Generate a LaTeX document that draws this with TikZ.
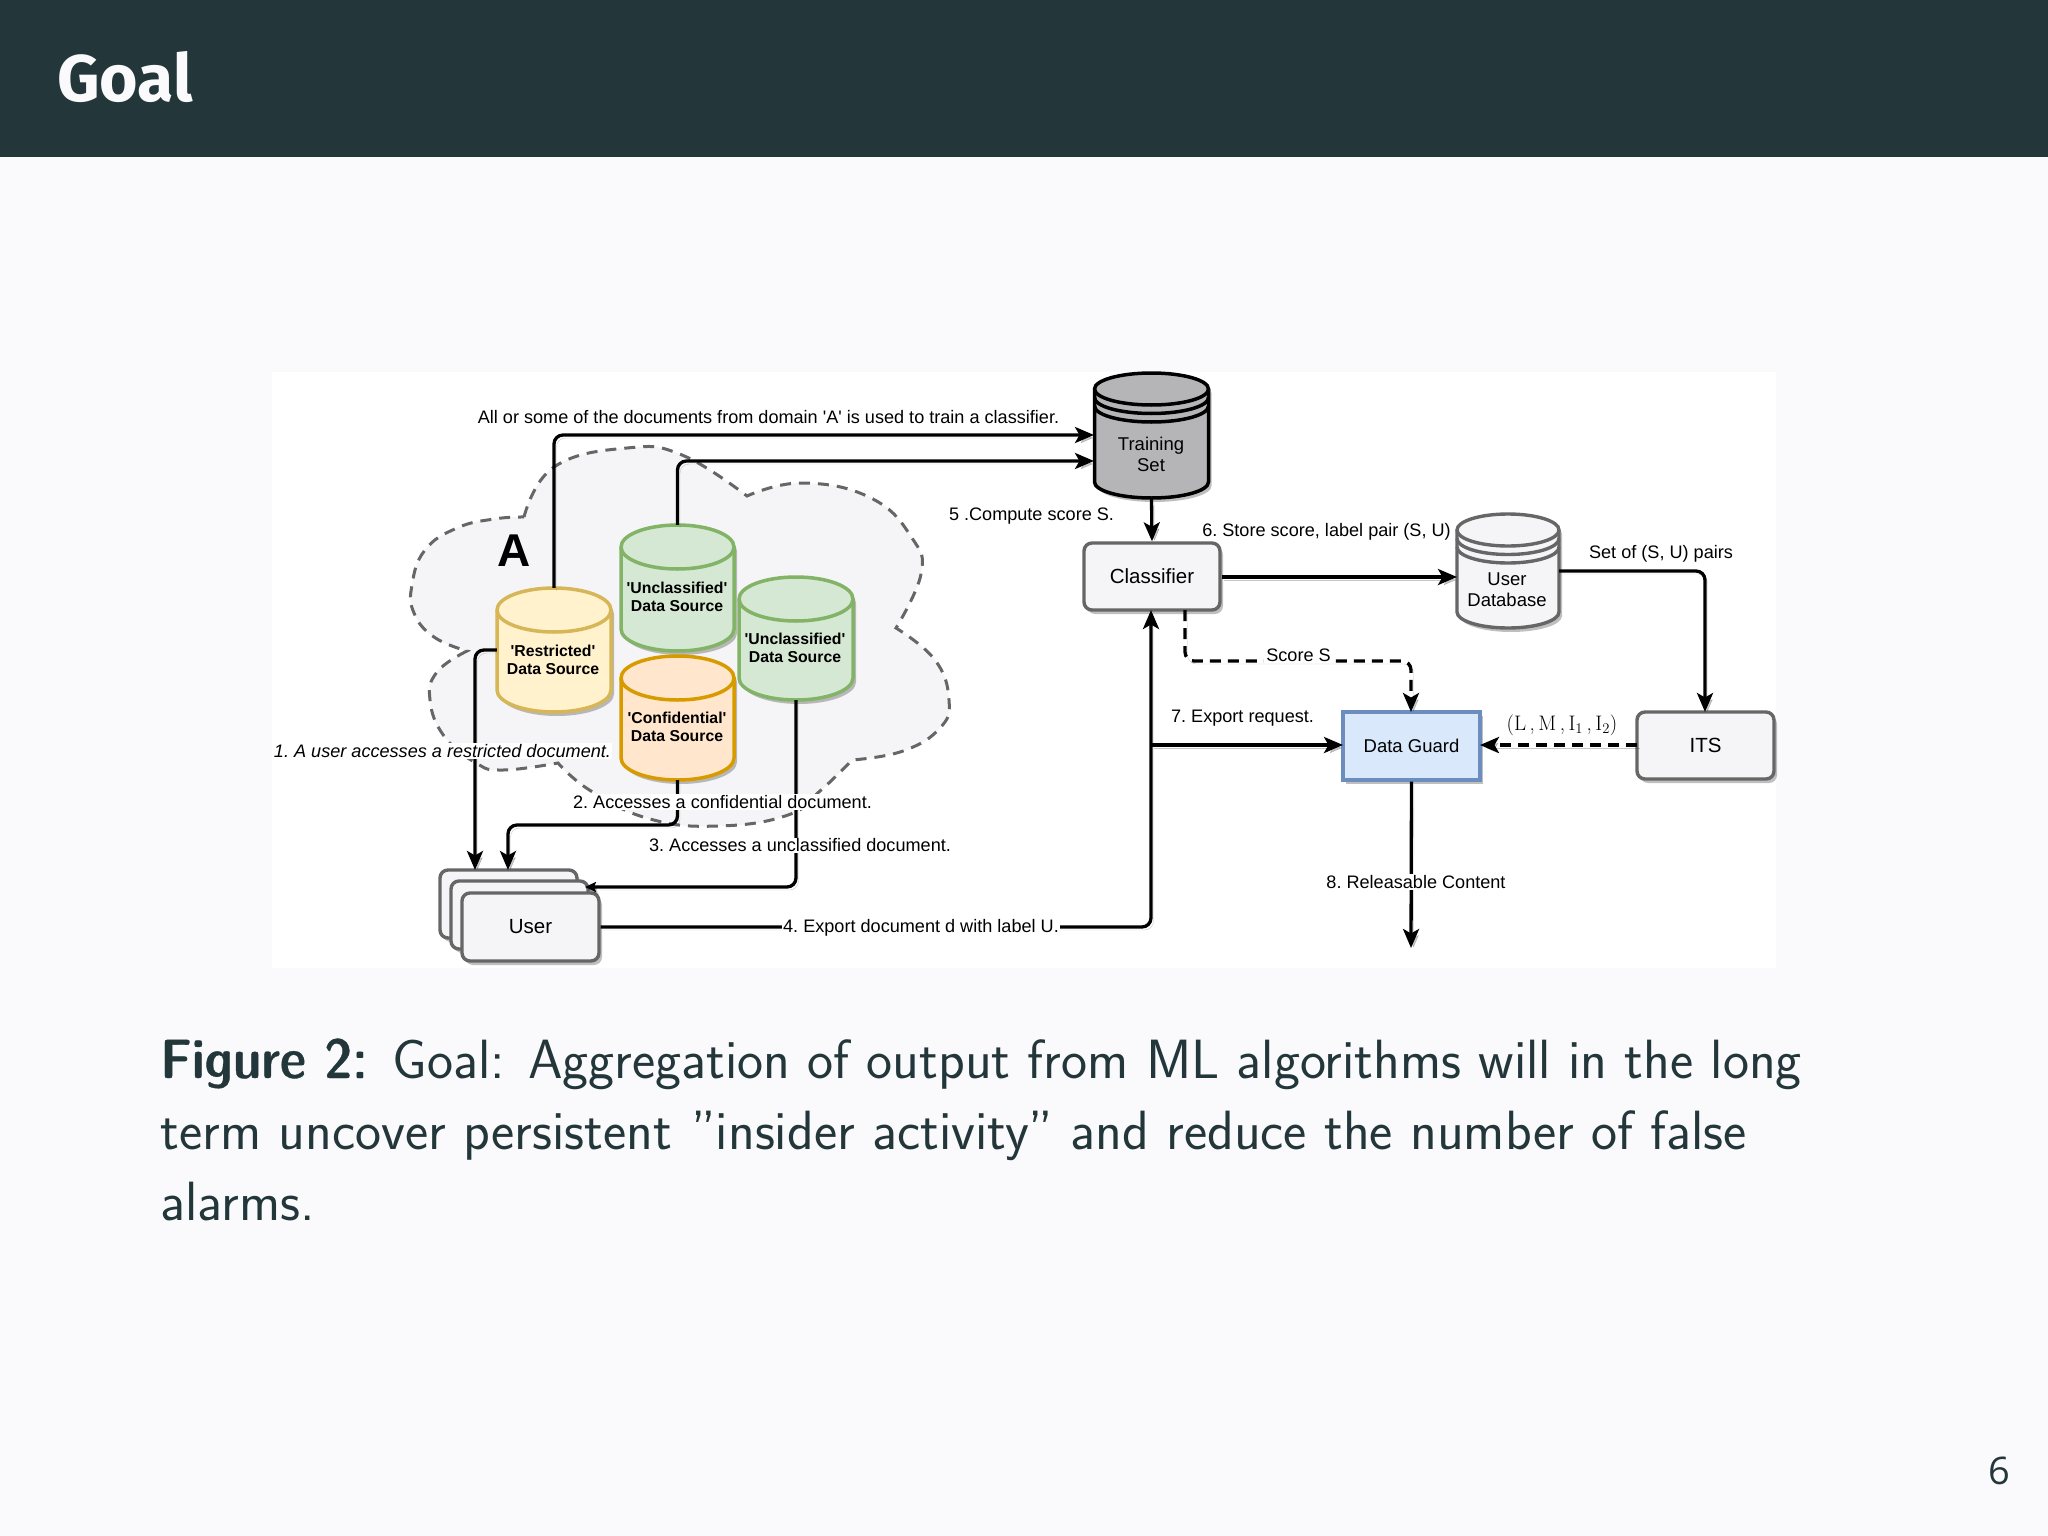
\documentclass[tikz,border=0pt]{standalone}
\usepackage{fontspec}
\usetikzlibrary{arrows.meta,shadows}
\newfontfamily\arialf{Liberation Sans}
\newfontfamily\opens{Open Sans}
\newfontfamily\firat{Fira Sans}
\newfontfamily\lmdemi[FakeStretch=1.06,FakeBold=0.6]{Latin Modern Sans Demi Cond}
\definecolor{bg}{HTML}{FAFAFC}
\definecolor{teal}{HTML}{23373B}
\definecolor{ycol}{HTML}{FFF2CC}\definecolor{ydraw}{HTML}{D6B656}
\definecolor{gcol}{HTML}{D5E8D4}\definecolor{gdraw}{HTML}{82B366}
\definecolor{ocol}{HTML}{FFE6CC}\definecolor{odraw}{HTML}{D79B00}
\definecolor{bcol}{HTML}{DAE8FC}\definecolor{bdraw}{HTML}{6C8EBF}
\definecolor{lg}{HTML}{F5F5F7}\definecolor{dg}{HTML}{666666}
\definecolor{ts}{HTML}{B5B5B7}
\frenchspacing
\tikzset{
  x=1pt,y=-1pt,
  shd/.style={preaction={draw=black,opacity=.22,transform canvas={shift={(2.5pt,-3pt)}}}},
  conn/.style={line width=3.3pt,rounded corners=9pt,draw=black,shd,-{Stealth[length=19pt,width=16pt,inset=4.5pt]}},
  connplain/.style={line width=3.3pt,rounded corners=9pt,draw=black,shd},
  dconn/.style={conn,dash pattern=on 11pt off 7pt},
  lab/.style={font=\arialf\fontsize{18.1}{21}\selectfont,fill=white,inner sep=1pt,text=black},
  laba/.style={font=\arialf\fontsize{18.1}{21}\selectfont,inner sep=0pt,text=black},
  box/.style={draw=dg,fill=lg,line width=3.4pt,rounded corners=8pt,minimum width=136pt,minimum height=67pt,inner sep=0pt,
    font=\arialf\fontsize{20.5}{24}\selectfont,drop shadow={shadow xshift=3pt,shadow yshift=-4pt,opacity=.25,fill=black}},
  cyltxt/.style={font=\arialf\bfseries\fontsize{15.8}{18}\selectfont,align=center,inner sep=0pt,text=black},
  cyltxtn/.style={font=\arialf\fontsize{18.5}{21}\selectfont,align=center,inner sep=0pt,text=black},
  captxt/.style={anchor=base west,inner sep=0pt,text=teal,font=\sffamily\nonfrenchspacing\fontsize{55.3}{71}\selectfont}
}
% name, xc, r, top, bottom, ry, fill, stroke, line width
\newcommand{\dbcyl}[9]{%
  \path[fill=black,opacity=.25] ({#2-#3+3},{#4+#6+4}) arc[start angle=180,end angle=0,x radius=#3pt,y radius=#6pt] -- ({#2+#3+3},{#5-#6+4}) arc[start angle=0,end angle=-180,x radius=#3pt,y radius=#6pt] -- cycle;
  \draw[line width=#9pt,draw=#8,fill=#7] ({#2-#3},{#4+#6}) arc[start angle=180,end angle=0,x radius=#3pt,y radius=#6pt] -- ({#2+#3},{#5-#6}) arc[start angle=0,end angle=-180,x radius=#3pt,y radius=#6pt] -- cycle;
  \draw[line width=#9pt,draw=#8] ({#2-#3},{#4+#6}) arc[start angle=180,end angle=360,x radius=#3pt,y radius=#6pt];
  \node[rectangle,inner sep=0pt,minimum width=2*#3 pt,minimum height={(#5-#4)*1pt}] (#1) at (#2,{(#4+#5)/2}) {};
}
\newcommand{\dbarc}[6]{% xc r y ry stroke lw
  \draw[line width=#6pt,draw=#5] ({#1-#2},#3) arc[start angle=180,end angle=360,x radius=#2pt,y radius=#4pt];
}
\begin{document}
\begin{tikzpicture}
\useasboundingbox (0,0) rectangle (2048,1536);
\fill[bg] (0,0) rectangle (2048,1536);
\fill[teal] (0,0) rectangle (2048,157);
\node[anchor=base west,inner sep=0pt,text=bg,font=\firat\bfseries\fontsize{66}{70}\selectfont] (title) at (57,102) {Goal};
\fill[white] (272,372) rectangle (1776,968);
% cloud
\draw[fill=lg,draw=dg,line width=3pt,dash pattern=on 11pt off 8pt]
  plot[smooth,tension=.75] coordinates {(524,517) (554,467) (627,448) (682,455) (747,496)}
  -- plot[smooth,tension=.75] coordinates {(747,496) (802,483) (871,498) (912,538) (921,574) (896,628)}
  -- plot[smooth,tension=.75] coordinates {(896,628) (935,660) (949,700) (940,728) (903,751) (852,760)}
  -- plot[smooth,tension=.75] coordinates {(852,760) (820,791) (788,815) (719,826) (650,819) (591,791) (558,763)}
  -- plot[smooth,tension=.75] coordinates {(558,763) (503,770) (476,763) (444,736) (430,700) (437,672) (467,651)}
  -- plot[smooth,tension=.75] coordinates {(467,651) (434,637) (414,613) (412,585) (425,550) (457,528) (494,519) (524,517)};
\node[inner sep=0pt,font=\arialf\bfseries\fontsize{46}{50}\selectfont] (alabel) at (514,551) {A};
% cylinders
\dbcyl{rest}{554}{57}{588}{712}{22}{ycol}{ydraw}{3.5}
\dbcyl{unca}{677.5}{56.5}{525}{651}{22}{gcol}{gdraw}{3.5}
\dbcyl{uncb}{796}{57}{577}{700}{22}{gcol}{gdraw}{3.5}
\dbcyl{conf}{677.5}{56.5}{656}{780}{22}{ocol}{odraw}{3.5}
\dbcyl{tset}{1151.5}{57}{373}{498}{16}{ts}{black}{3.5}
\dbarc{1151.5}{57}{397.5}{16}{black}{3.5}
\dbarc{1151.5}{57}{406}{16}{black}{3.5}
\dbcyl{udb}{1508}{51}{514}{628}{16}{lg}{dg}{3.4}
\dbarc{1508}{51}{538.5}{16}{dg}{3.4}
\dbarc{1508}{51}{547}{16}{dg}{3.4}
% boxes
\node[box,minimum width=137pt,minimum height=68pt] (ua) at (508.5,904) {};
\node[box,minimum width=137pt,minimum height=68pt] (ub) at (519.5,915) {};
\node[box,minimum width=137pt,minimum height=68pt] (user) at (530.5,927) {User};
\node[box] (cls) at (1152,576.5) {Classifier};
\node[box,draw=bdraw,fill=bcol,rounded corners=0pt,minimum width=137pt,minimum height=68pt,font=\arialf\fontsize{18.5}{21}\selectfont] (guard) at (1411.5,746) {Data Guard};
\node[box,minimum width=137pt,minimum height=67pt] (its) at (1705.5,745.5) {ITS};
% endpoints
\coordinate (tsa) at (1094,435);
\coordinate (tsb) at (1094,461);
\coordinate (dbin) at (1457,577);
\coordinate (dbout) at (1559,571);
\coordinate (dashout) at (1185,610);
\coordinate (guardin) at (1343,745);
\coordinate (guardits) at (1480,745);
\coordinate (itsout) at (1637,745);
\coordinate (itsin) at (1705,712);
\coordinate (guardtop) at (1411,712);
\coordinate (clsbot) at (1151,610);
\coordinate (junct) at (1151,745);
\coordinate (outend) at (1411,948);
\coordinate (ua1) at (475,870);
\coordinate (ua2) at (508,870);
\coordinate (ub1) at (585,887);
% connectors
\draw[conn] (rest.north) |- (tsa);
\draw[conn] (unca.north) |- (tsb);
\draw[conn] (rest.west) -| (ua1);
\draw[conn] (conf.south) |- (508,825) -- (ua2);
\draw[connplain,-{Stealth[length=11pt,width=10pt,inset=2pt]}] (uncb.south) |- (ub1);
\draw[conn] (user.east) -| (clsbot);
\draw[conn] (junct) -- (guardin);
\draw[conn] (tset.south) -- (cls.north);
\draw[conn] (cls.east |- dbin) -- (dbin);
\draw[conn] (dbout) -| (itsin);
\draw[dconn] (dashout) |- (1411,661) -- (guardtop);
\draw[dconn] (itsout) -- (guardits);
\draw[conn] (guard.south) -- (outend);
% cylinder text
\node[cyltxt] (restt) at (553,659.5) {'Restricted'\\Data Source};
\node[cyltxt] (uncat) at (677,597) {'Unclassified'\\Data Source};
\node[cyltxt] (uncbt) at (795,648) {'Unclassified'\\Data Source};
\node[cyltxt] (conft) at (677,727) {'Confidential'\\Data Source};
\node[cyltxtn] (tsett) at (1151,454.5) {Training\\Set};
\node[cyltxtn] (udbt) at (1507,589.5) {User\\Database};
% labels
\node[laba,anchor=center] (l0) at (768.5,417) {All or some of the documents from domain 'A' is used to train a classifier.};
\node[lab,font=\arialf\itshape\fontsize{18.1}{21}\selectfont] (l1) at (442.5,751) {1. A user accesses a restricted document.};
\node[lab] (l2) at (722.5,802) {2. Accesses a confidential document.};
\node[lab] (l3) at (800,845.5) {3. Accesses a unclassified document.};
\node[lab] (l4) at (921,927.5) {4. Export document d with label U.};
\node[laba] (l5) at (1031.5,516) {5 .Compute score S.};
\node[lab] (l6) at (1326.5,532) {6. Store score, label pair (S, U)};
\node[laba] (l6b) at (1661,554) {Set of (S, U) pairs};
\node[lab,inner sep=2pt] (l7s) at (1298.5,655) {Score S};
\node[laba] (l7) at (1242.5,718) {7. Export request.};
\node[lab] (l8) at (1416,882) {8. Releasable Content};
\node[inner sep=0pt,font=\fontsize{21}{24}\selectfont] (lm) at (1562,725) {(L\,,\,M\,,\,I\textsubscript{1}\,,\,I\textsubscript{2})};
% caption
\node[captxt,font=\lmdemi\fontsize{55.3}{71}\selectfont] (capf) at (160,1078) {Figure 2:};
\node[captxt] (capa) at (392.5,1078) {Goal: Aggregation of output from ML algorithms will in the long};
\node[captxt] (capb) at (160.5,1149) {term uncover persistent\hspace{2pt} ”insider activity” and reduce the number of false};
\node[captxt] (capc) at (160.5,1220) {alarms.};
\node[anchor=base east,inner sep=0pt,text=teal,font=\opens\fontsize{38}{40}\selectfont] (pg) at (2010,1484) {6};
\end{tikzpicture}
\end{document}
